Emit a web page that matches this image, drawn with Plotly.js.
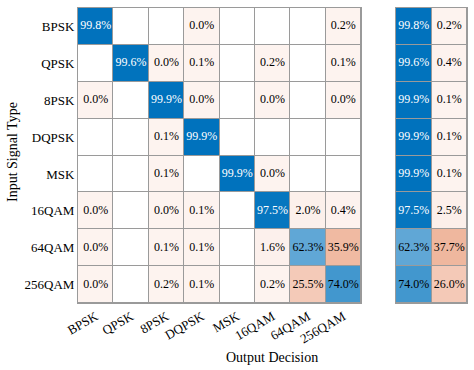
<!DOCTYPE html>
<html>
<head>
<meta charset="utf-8">
<script src="https://cdn.plot.ly/plotly-3.0.1.min.js"></script>
<style>html,body{margin:0;padding:0;background:#fff;}#chart{width:474px;height:370px;}</style>
</head>
<body>
<div id="chart"></div>
<script>
// Class labels (rows = input signal type, columns = output decision)
const classes = ['BPSK', 'QPSK', '8PSK', 'DQPSK', 'MSK', '16QAM', '64QAM', '256QAM'];

// Row-normalized confusion values in percent (null = empty cell)
const rowBPSK   = [99.8, null, null, 0.0,  null, null, null, 0.2];
const rowQPSK   = [null, 99.6, 0.0,  0.1,  null, 0.2,  null, 0.1];
const row8PSK   = [0.0,  null, 99.9, 0.0,  null, 0.0,  null, 0.0];
const rowDQPSK  = [null, null, 0.1,  99.9, null, null, null, null];
const rowMSK    = [null, null, 0.1,  null, 99.9, 0.0,  null, null];
const row16QAM  = [0.0,  null, 0.0,  0.1,  null, 97.5, 2.0,  0.4];
const row64QAM  = [0.0,  null, 0.1,  0.1,  null, 1.6,  62.3, 35.9];
const row256QAM = [0.0,  null, 0.2,  0.1,  null, 0.2,  25.5, 74.0];

// Row summary (correct / incorrect) in percent
const rowCorrect   = [99.8, 99.6, 99.9, 99.9, 99.9, 97.5, 62.3, 74.0];
const rowIncorrect = [0.2, 0.4, 0.1, 0.1, 0.1, 2.5, 37.7, 26.0];
const summaryCols = ['Correct', 'Incorrect'];

const matrix = [rowBPSK, rowQPSK, row8PSK, rowDQPSK, rowMSK, row16QAM, row64QAM, row256QAM];

const FONT = 'Liberation Serif';
const GRID = '#9a9a9a';
const BLUE = [[0, '#ffffff'], [1, '#0072bd']];
const ORANGE = [[0, '#fdf3ef'], [1, '#d95319']];
const WHITE = [[0, '#ffffff'], [1, '#ffffff']];
const DARK_LIMIT = 80; // cells above this get white text

const mask = (m, keep) => m.map((r, i) => r.map((v, j) => (v !== null && keep(v, i, j) ? v : null)));

const diagZ = mask(matrix, (v, i, j) => i === j);
const offZ = mask(matrix, (v, i, j) => i !== j);
const baseZ = classes.map(() => classes.map(() => 0));

const summary = classes.map((c, i) => [rowCorrect[i], rowIncorrect[i]]);
const sumCorrect = mask(summary, (v, i, j) => j === 0);
const sumOff = mask(summary, (v, i, j) => j === 1);
const sumBase = classes.map(() => summaryCols.map(() => 0));

const common = {
  type: 'heatmap', xgap: 1, ygap: 1, showscale: false, hoverinfo: 'skip',
  zmin: 0, zmax: 100
};
function hm(x, z, cs, axes) {
  const t = Object.assign({}, common, {x: x, y: classes, z: z, colorscale: cs});
  if (axes) { t.xaxis = 'x2'; t.yaxis = 'y2'; }
  return t;
}
// text labels drawn as scatter text at the category positions
function labels(cols, m, isDiag, axes) {
  const out = [];
  [true, false].forEach(light => {
    const xs = [], ys = [], ts = [];
    m.forEach((r, i) => r.forEach((v, j) => {
      if (v === null) return;
      const white = isDiag(i, j) && v >= DARK_LIMIT;
      if (white !== light) return;
      xs.push(cols[j]); ys.push(classes[i]); ts.push(v.toFixed(1) + '%');
    }));
    const t = {type: 'scatter', mode: 'text', x: xs, y: ys, text: ts, hoverinfo: 'skip',
      textposition: 'middle center', cliponaxis: false,
      textfont: {family: FONT, size: 12, color: light ? '#ffffff' : '#000000'}};
    if (axes) { t.xaxis = 'x2'; t.yaxis = 'y2'; }
    out.push(t);
  });
  return out;
}

const traces = [
  hm(classes, baseZ, WHITE, false),
  hm(classes, offZ, ORANGE, false),
  hm(classes, diagZ, BLUE, false),
  hm(summaryCols, sumBase, WHITE, true),
  hm(summaryCols, sumOff, ORANGE, true),
  hm(summaryCols, sumCorrect, BLUE, true),
  ...labels(classes, matrix, (i, j) => i === j, false),
  ...labels(summaryCols, summary, (i, j) => j === 0, true)
];

const axBase = {type: 'category', ticks: '', showgrid: false, zeroline: false,
  showline: true, mirror: true, linecolor: GRID, linewidth: 1, fixedrange: true};

const layout = {
  width: 474, height: 370,
  margin: {l: 0, r: 0, t: 0, b: 0},
  paper_bgcolor: '#ffffff',
  plot_bgcolor: GRID,
  font: {family: FONT, size: 13, color: '#000'},
  showlegend: false,
  xaxis: Object.assign({}, axBase, {
    domain: [78 / 474, 361 / 474], categoryarray: classes, categoryorder: 'array',
    range: [-0.5, 7.5], tickangle: -30,
    tickfont: {family: FONT, size: 13, color: '#000'}, anchor: 'y'
  }),
  yaxis: Object.assign({}, axBase, {
    domain: [1 - 303 / 370, 1 - 8 / 370], categoryarray: classes, categoryorder: 'array',
    range: [7.5, -0.5],
    tickfont: {family: FONT, size: 13, color: '#000'}, anchor: 'x'
  }),
  xaxis2: Object.assign({}, axBase, {
    domain: [396 / 474, 467 / 474], categoryarray: summaryCols, categoryorder: 'array',
    range: [-0.5, 1.5], showticklabels: false, anchor: 'y2'
  }),
  yaxis2: Object.assign({}, axBase, {
    domain: [1 - 303 / 370, 1 - 8 / 370], categoryarray: classes, categoryorder: 'array',
    range: [7.5, -0.5], showticklabels: false, anchor: 'x2'
  }),
  annotations: [{
    text: 'Output Decision', xref: 'paper', yref: 'paper',
    x: 272 / 474, y: 1 - 357 / 370, xanchor: 'center', yanchor: 'middle',
    showarrow: false, font: {family: FONT, size: 14, color: '#000'}
  }, {
    text: 'Input Signal Type', xref: 'paper', yref: 'paper', textangle: -90,
    x: 12 / 474, y: 1 - 152 / 370, xanchor: 'center', yanchor: 'middle',
    showarrow: false, font: {family: FONT, size: 14, color: '#000'}
  }]
};

Plotly.newPlot('chart', traces, layout, {displayModeBar: false, staticPlot: true});
</script>
</body>
</html>
